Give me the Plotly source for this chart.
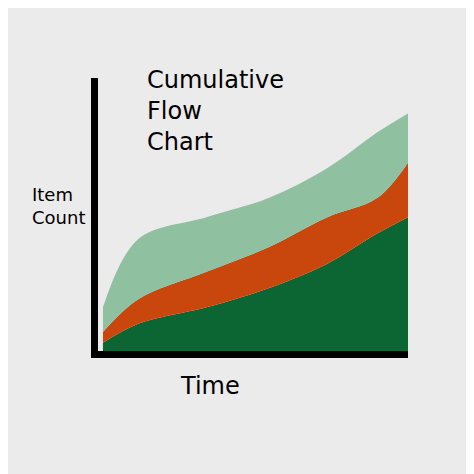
import plotly.graph_objects as go

time = [0.16, 1.3, 3.5, 5.5, 7.4, 9.0, 10.0]
done = [3, 10, 16, 23, 32, 43, 49]
in_progress = [4, 9, 13, 15, 17, 13, 20]
backlog = [9, 22, 20, 18, 18, 24, 18]

fig = go.Figure()
for name, vals, col in [("Done", done, "#0b6634"), ("In Progress", in_progress, "#c9460c"), ("Backlog", backlog, "#8fc0a0")]:
    fig.add_trace(go.Scatter(x=time, y=vals, name=name, stackgroup="one", mode="lines",
                             line=dict(width=0, shape="spline", color=col), fillcolor=col))

fig.update_layout(
    width=474, height=474, showlegend=False,
    paper_bgcolor="#ebebeb", plot_bgcolor="#ebebeb",
    margin=dict(l=90, r=74, t=70, b=131),
    xaxis=dict(range=[0, 10], showline=True, linewidth=7, linecolor="black", showgrid=False,
               zeroline=False, showticklabels=False, ticks=""),
    yaxis=dict(range=[0, 100], showline=True, linewidth=7, linecolor="black", showgrid=False,
               zeroline=False, showticklabels=False, ticks=""),
    font=dict(family="DejaVu Sans", color="black"),
)
fig.add_annotation(text="Cumulative<br>Flow<br>Chart", xref="paper", yref="paper", x=0.15, y=1.05,
                   xanchor="left", yanchor="top", showarrow=False, align="left",
                   font=dict(size=24))
fig.add_annotation(text="Item<br>Count", x=-0.22, y=0.53, xref="paper", yref="paper", showarrow=False,
                   xanchor="left", yanchor="middle", align="left", font=dict(size=18))
fig.add_annotation(text="Time", xref="paper", yref="paper", x=0.36, y=-0.13, xanchor="center",
                   yanchor="middle", showarrow=False, font=dict(size=24))
fig.write_html("out.html")
